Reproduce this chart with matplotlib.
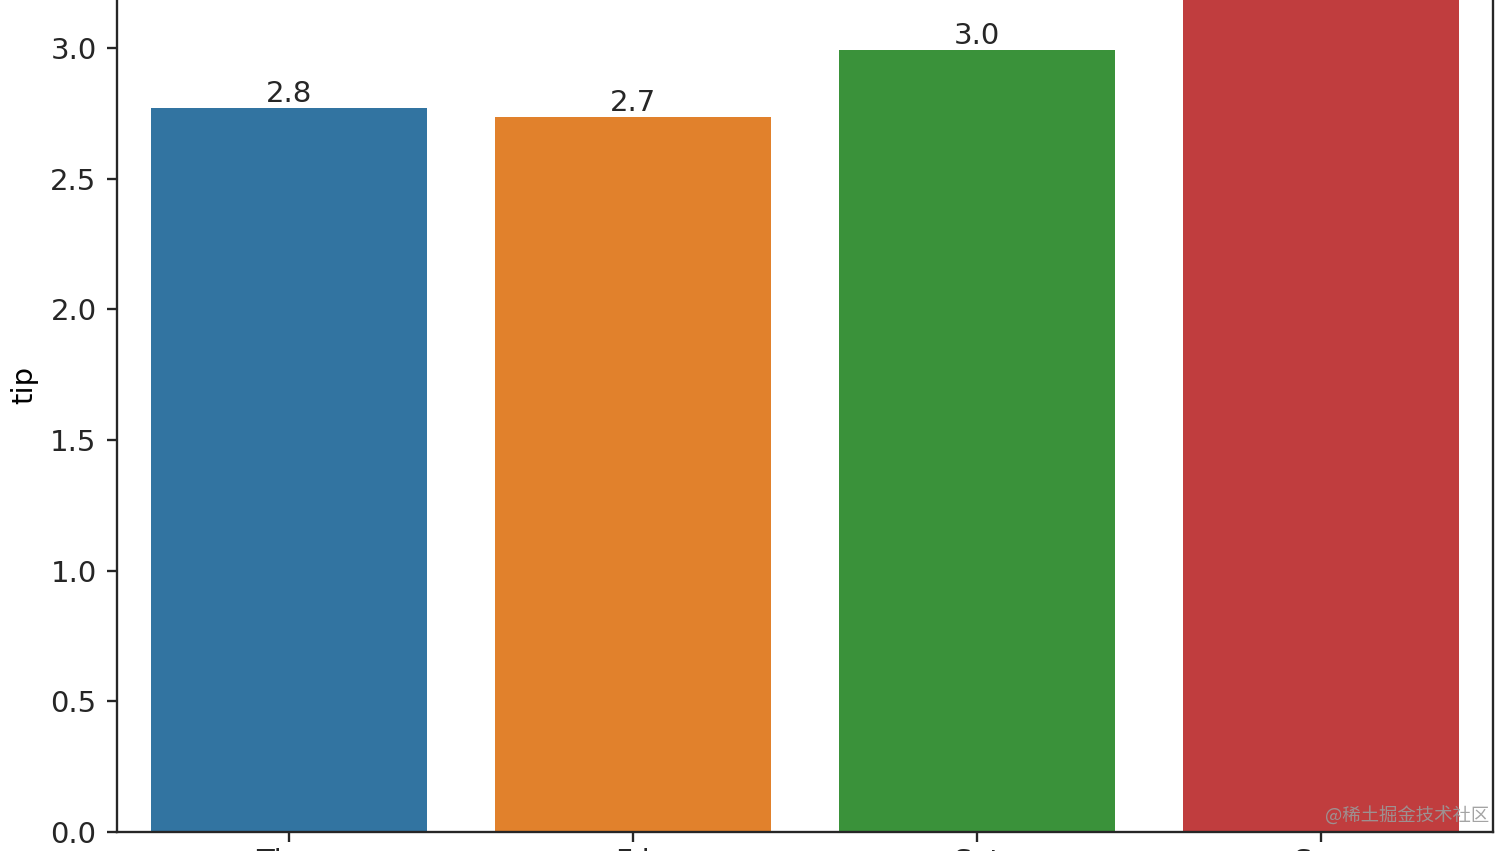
import numpy as np
import matplotlib.pyplot as plt

# mean tip per day (tips dataset)
days = ["Thur", "Fri", "Sat", "Sun"]
tips = [2.771452, 2.734737, 2.993103, 3.255132]
colors = ["#3274a1", "#e1812c", "#3a923a", "#c03d3e"]

dpi = 210
fig = plt.figure(figsize=(1512 / dpi, 851 / dpi), dpi=dpi)

# axes extends past the top edge: the picture is a crop
ytop = max(tips) * 1.05
bottom = (851 - 832) / 851
height = ytop * (784 / 3.0) / 851
ax = fig.add_axes([117 / 1512, bottom, (1493 - 117) / 1512, height])

x = np.arange(len(days))
bars = ax.bar(x, tips, width=0.8, color=colors)
ax.bar_label(bars, fmt="%.1f", fontsize=10, color="#262626")

ax.set_xlim(-0.5, len(days) - 0.5)
ax.set_ylim(0, ytop)
ax.set_xticks(x)
ax.set_xticklabels(days)
ax.set_yticks(np.arange(0, 3.01, 0.5))
ax.set_ylabel("tip")
ax.set_xlabel("day")
ax.tick_params(colors="#262626")
ax.tick_params(axis="x", pad=2.0)
for s in ax.spines.values():
    s.set_color("#262626")

fig.text(1489 / 1512, (851 - 816) / 851, "@稀土掘金技术社区",
         ha="right", va="center", fontsize=6.3, color="#9a9a9a", alpha=0.9,
         family=["Noto Sans CJK SC", "DejaVu Sans"])

fig.savefig("out.png", dpi=dpi)
